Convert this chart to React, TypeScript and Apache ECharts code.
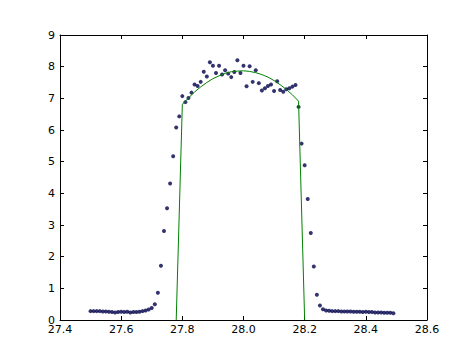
import React, { useEffect, useRef } from "react";
import * as echarts from "echarts";

const xValues: number[] = [
  27.50, 27.51, 27.52, 27.53, 27.54, 27.55, 27.56, 27.57, 27.58, 27.59,
  27.60, 27.61, 27.62, 27.63, 27.64, 27.65, 27.66, 27.67, 27.68, 27.69,
  27.70, 27.71, 27.72, 27.73, 27.74, 27.75, 27.76, 27.77, 27.78, 27.79,
  27.80, 27.81, 27.82, 27.83, 27.84, 27.85, 27.86, 27.87, 27.88, 27.89,
  27.90, 27.91, 27.92, 27.93, 27.94, 27.95, 27.96, 27.97, 27.98, 27.99,
  28.00, 28.01, 28.02, 28.03, 28.04, 28.05, 28.06, 28.07, 28.08, 28.09,
  28.10, 28.11, 28.12, 28.13, 28.14, 28.15, 28.16, 28.17, 28.18, 28.19,
  28.20, 28.21, 28.22, 28.23, 28.24, 28.25, 28.26, 28.27, 28.28, 28.29,
  28.30, 28.31, 28.32, 28.33, 28.34, 28.35, 28.36, 28.37, 28.38, 28.39,
  28.40, 28.41, 28.42, 28.43, 28.44, 28.45, 28.46, 28.47, 28.48, 28.49,
];

const measured: number[] = [
  0.28, 0.28, 0.28, 0.28, 0.27, 0.27, 0.26, 0.25, 0.24, 0.25,
  0.26, 0.25, 0.26, 0.24, 0.25, 0.25, 0.26, 0.28, 0.30, 0.33,
  0.38, 0.50, 0.86, 1.71, 2.81, 3.53, 4.31, 5.17, 6.08, 6.43,
  7.07, 6.88, 7.01, 7.18, 7.44, 7.39, 7.52, 7.84, 7.69, 8.14,
  8.03, 7.80, 8.03, 7.75, 7.89, 7.78, 7.67, 7.83, 8.20, 7.80,
  8.03, 7.38, 8.01, 7.52, 7.89, 7.48, 7.25, 7.32, 7.39, 7.44,
  7.23, 7.54, 7.26, 7.21, 7.29, 7.32, 7.37, 7.42, 6.73, 5.57,
  4.89, 3.82, 2.75, 1.69, 0.80, 0.46, 0.34, 0.30, 0.29, 0.28,
  0.28, 0.28, 0.27, 0.27, 0.27, 0.27, 0.26, 0.26, 0.26, 0.25,
  0.26, 0.25, 0.25, 0.24, 0.24, 0.24, 0.23, 0.23, 0.23, 0.21,
];

const fitX: number[] = [
  27.78, 27.80, 27.82, 27.84, 27.86, 27.88, 27.90, 27.92, 27.94, 27.96,
  27.98, 28.00, 28.02, 28.04, 28.06, 28.08, 28.10, 28.12, 28.14, 28.16,
  28.18, 28.20,
];
const fitY: number[] = [
  0.0, 6.81, 7.01, 7.20, 7.36, 7.50, 7.62, 7.71, 7.79, 7.84,
  7.86, 7.87, 7.85, 7.81, 7.75, 7.67, 7.56, 7.43, 7.28, 7.11,
  6.91, 0.0,
];

const xMin = 27.4;
const xMax = 28.6;
const yMin = 0;
const yMax = 9;

export default function App() {
  const ref = useRef<HTMLDivElement>(null);
  useEffect(() => {
    if (!ref.current) return;
    const chart = echarts.init(ref.current, null, { renderer: "svg" });
    const font = "DejaVu Sans";
    const tick = { show: true, inside: true, length: 4, lineStyle: { color: "#000", width: 1 } };
    const line = { show: true, onZero: false, lineStyle: { color: "#000", width: 1 } };
    chart.setOption({
      animation: false,
      backgroundColor: "#fff",
      grid: { left: 60, right: 47, top: 35, bottom: 35, containLabel: false },
      xAxis: [
        {
          type: "value", min: xMin, max: xMax, interval: 0.2,
          axisLine: line, axisTick: tick, splitLine: { show: false },
          axisLabel: {
            color: "#000", fontFamily: font, fontSize: 11, lineHeight: 11, margin: 4,
            formatter: (v: number) => v.toFixed(1),
          },
        },
        {
          type: "value", position: "top", min: xMin, max: xMax, interval: 0.2,
          axisLine: line, axisTick: tick, splitLine: { show: false },
          axisLabel: { show: false },
        },
      ],
      yAxis: [
        {
          type: "value", min: yMin, max: yMax, interval: 1,
          axisLine: line, axisTick: tick, splitLine: { show: false },
          axisLabel: { color: "#000", fontFamily: font, fontSize: 11, lineHeight: 8, margin: 5 },
        },
        {
          type: "value", position: "right", min: yMin, max: yMax, interval: 1,
          axisLine: line, axisTick: tick, splitLine: { show: false },
          axisLabel: { show: false },
        },
      ],
      series: [
        {
          type: "scatter",
          data: xValues.map((x, i) => [x, measured[i]]),
          symbol: "circle",
          symbolSize: 4,
          itemStyle: { color: "#00004a" },
          z: 2,
        },
        {
          type: "line",
          data: fitX.map((x, i) => [x, fitY[i]]),
          showSymbol: false,
          symbol: "none",
          lineStyle: { color: "#008000", width: 1 },
          z: 3,
        },
      ],
    });
    return () => chart.dispose();
  }, []);
  return (
    <div
      ref={ref}
      style={{ position: "fixed", left: 0, top: 0, width: 474, height: 355, background: "#fff" }}
    />
  );
}
